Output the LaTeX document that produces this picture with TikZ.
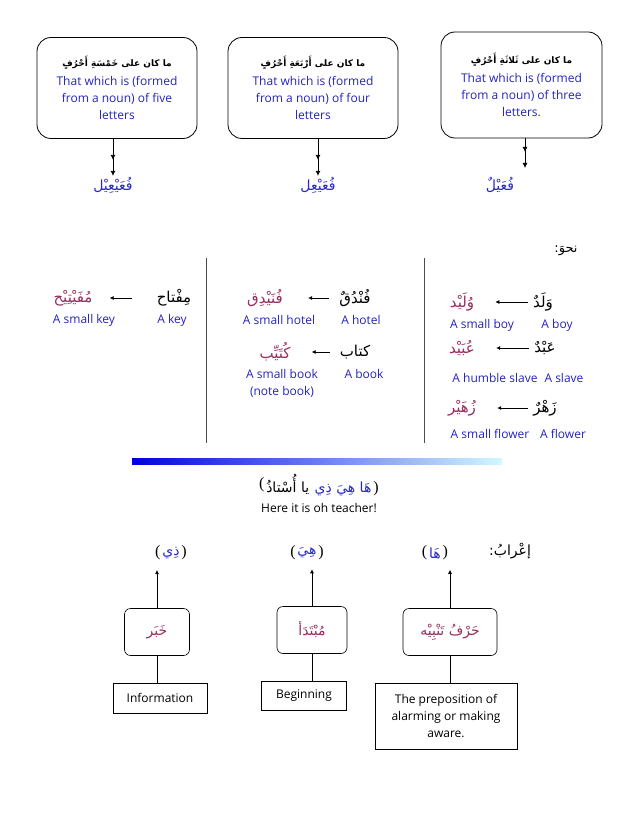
\documentclass[tikz,border=0pt]{standalone}
\usepackage{fontspec}
\setmainfont{Open Sans}
\newfontfamily\arabicfont[Script=Arabic]{DejaVu Sans}
\newfontfamily\parfont{Liberation Serif}
\TeXXeTstate=1
\usetikzlibrary{arrows.meta}
\definecolor{engblue}{RGB}{35,35,190}
\definecolor{wordblue}{RGB}{40,40,200}
\definecolor{wordred}{RGB}{150,45,95}
\definecolor{barblue}{RGB}{0,0,225}
\definecolor{barmid}{RGB}{0,170,240}
\definecolor{barcyan}{RGB}{210,248,255}
\newcommand{\engsize}{\fontsize{12}{17}\selectfont}
\newcommand{\artxt}[1]{{\arabicfont\beginR #1\endR}}
\newcommand{\boxar}[1]{{\arabicfont\bfseries\fontsize{9}{12}\selectfont\color{black}\beginR #1\endR}}

\begin{document}
\begin{tikzpicture}[x=1pt,y=-1pt,
  topbox/.style={draw, line width=0.8pt, rounded corners=14pt, align=center, text=engblue, font=\engsize, inner sep=2pt},
  labbox/.style={draw, line width=0.6pt, rounded corners=6pt, minimum height=47pt, text=wordred, font=\arabicfont\fontsize{14}{16}\selectfont},
  engbox/.style={draw, line width=0.6pt, align=center, font=\engsize},
  eng/.style={text=engblue, font=\engsize, inner sep=1pt},
  src/.style={font=\arabicfont\fontsize{15}{18}\selectfont, inner sep=1pt},
  drv/.style={src, text=wordred},
  tw/.style={font=\arabicfont\fontsize{14}{16}\selectfont, text=wordblue, inner sep=1pt},
  par/.style={font=\parfont\fontsize{16}{18}\selectfont, text=black, inner sep=0.5pt, label distance=0pt},
  dbl/.style={line width=0.8pt, -{Latex[length=5pt,width=5pt,sep=11pt]Latex[length=5pt,width=5pt]}},
  la/.style={line width=0.7pt, -{Latex[length=4pt,width=4pt]}},
  upa/.style={line width=0.7pt, -{Latex[length=4pt,width=4pt]}},
  sepline/.style={line width=0.7pt, black!70},
]
\useasboundingbox (0,0) rectangle (638,826);

% the three patterns
\node[topbox, minimum width=160pt, minimum height=101pt] (five) at (117,88)
  {\boxar{ما كان على خَمْسَةِ أَحْرُفٍ}\\[2pt]That which is (formed\\from a noun) of five\\letters};
\node[topbox, minimum width=170pt, minimum height=101pt] (four) at (313,88)
  {\boxar{ما كان على أَرْبَعَةِ أَحْرُفٍ}\\[2pt]That which is (formed\\from a noun) of four\\letters};
\node[topbox, minimum width=161pt, minimum height=106pt] (three) at (521.5,85)
  {\boxar{ما كان على ثَلاثَةِ أَحْرُفٍ}\\[2pt]That which is (formed\\from a noun) of three\\letters.};

\node[tw] (fuayil5) at (113,185) {\artxt{فُعَيْعِيْل}};
\node[tw] (fuayil4) at (318,185) {\artxt{فُعَيْعِل}};
\node[tw] (fuayl3) at (500,185) {\artxt{فُعَيْلٌ}};
\coordinate (tip3) at (525,168);

\draw[dbl] (five.south -| fuayil5) -- (fuayil5.north);
\draw[dbl] (four.south -| fuayil4) -- (fuayil4.north);
\draw[dbl] (three.south -| tip3) -- (tip3);

% examples
\node[src, font=\arabicfont\fontsize{13}{16}\selectfont] (nahw) at (566,251) {\artxt{نحوَ:}};
\draw[sepline] (424,258) -- (424,443);
\draw[sepline] (206,258) -- (206,443);

\node[src] (walad) at (543,302) {\artxt{وَلَدٌ}};
\node[drv] (wulayd) at (462,302) {\artxt{وُلَيْد}};
\draw[la, shorten <=4pt, shorten >=20pt] (walad.west) -- (wulayd.east);
\node[eng] (boys) at (482,325) {A small boy};
\node[eng] (boy) at (557,325) {A boy};

\node[src] (abd) at (545,348) {\artxt{عَبْدٌ}};
\node[drv] (ubayd) at (462,348) {\artxt{عُبَيْد}};
\draw[la, shorten <=4pt, shorten >=20pt] (abd.west) -- (ubayd.east);
\node[eng] (slaves) at (495,378) {A humble slave};
\node[eng] (slave) at (564,378) {A slave};

\node[src] (zahr) at (545,408) {\artxt{زَهْرٌ}};
\node[drv] (zuhayr) at (462,408) {\artxt{زُهَيْر}};
\draw[la, shorten <=4pt, shorten >=20pt] (zahr.west) -- (zuhayr.east);
\node[eng] (flowers) at (490,434) {A small flower};
\node[eng] (flower) at (563,434) {A flower};

\node[src] (funduq) at (355,298) {\artxt{فُنْدُقٌ}};
\node[drv] (funaydiq) at (265,298) {\artxt{فُنَيْدِق}};
\draw[la, shorten <=9pt, shorten >=24pt] (funduq.west) -- (funaydiq.east);
\node[eng] (hotels) at (279,320) {A small hotel};
\node[eng] (hotel) at (361,320) {A hotel};

\node[src] (kitab) at (355,352) {\artxt{كتاب}};
\node[drv] (kutayyib) at (275,352) {\artxt{كُتَيِّب}};
\draw[la, shorten <=9pt, shorten >=20pt] (kitab.west) -- (kutayyib.east);
\node[eng, align=center] (books) at (282,383) {A small book\\(note book)};
\node[eng] (book) at (364,374) {A book};

\node[src] (miftah) at (174,298) {\artxt{مِفْتاح}};
\node[drv] (mufaytih) at (73,298) {\artxt{مُفَيْتِيْح}};
\draw[la, shorten <=24pt, shorten >=16pt] (miftah.west) -- (mufaytih.east);
\node[eng] (keys) at (84,320) {A small key};
\node[eng] (key) at (172,320) {A key};

% gradient bar
\shade[left color=barblue, middle color=barmid, right color=barcyan] (132,458) rectangle (502,464);

% the sentence
\node[tw, label={[par]right:)}] (haa) at (343,489) {\artxt{هَا هِيَ ذِي}};
\node[src, font=\arabicfont\fontsize{14}{16}\selectfont, anchor=base east, label={[par]left:(}] (ustadh) at ([xshift=-3pt]haa.base west) {\artxt{يا أُسْتاذُ}};
\node[font=\engsize, inner sep=1pt] (tarjama) at (319,508) {Here it is oh teacher!};

% parsing
\node[src, font=\arabicfont\fontsize{14}{16}\selectfont] (irab) at (510,551) {\artxt{إعْرابُ:}};
\node[tw, label={[par]left:(}, label={[par]right:)}] (ha) at (435,553) {\artxt{هَا}};
\node[tw, label={[par]left:(}, label={[par]right:)}] (hiya) at (307,553) {\artxt{هِيَ}};
\node[tw, label={[par]left:(}, label={[par]right:)}] (dhi) at (171,553) {\artxt{ذِي}};

\node[labbox, minimum width=94pt] (harf) at (450,632) {\artxt{حَرْفُ تَنْبِيْه}};
\node[labbox, minimum width=70pt] (mubtada) at (312,630) {\artxt{مُبْتَدَأ}};
\node[labbox, minimum width=65pt] (khabar) at (157,632) {\artxt{خَبَر}};

\draw[upa] (harf.north) -- ([yshift=-10pt]harf.north |- ha.south);
\draw[upa] (mubtada.north) -- ([yshift=-10pt]mubtada.north |- hiya.south);
\draw[upa] (khabar.north) -- ([yshift=-10pt]khabar.north |- dhi.south);

\node[engbox, minimum width=94pt, minimum height=30pt] (info) at (160,698) {Information};
\node[engbox, minimum width=85pt, minimum height=29pt] (begin) at (304,696) {Beginning};
\node[engbox, minimum width=142pt, minimum height=66pt] (prep) at (446,716) {The preposition of\\alarming or making\\aware.};

\draw[line width=0.7pt] (khabar.south) -- (khabar.south |- info.north);
\draw[line width=0.7pt] (mubtada.south) -- (mubtada.south |- begin.north);
\draw[line width=0.7pt] (harf.south) -- (harf.south |- prep.north);
\end{tikzpicture}
\end{document}
